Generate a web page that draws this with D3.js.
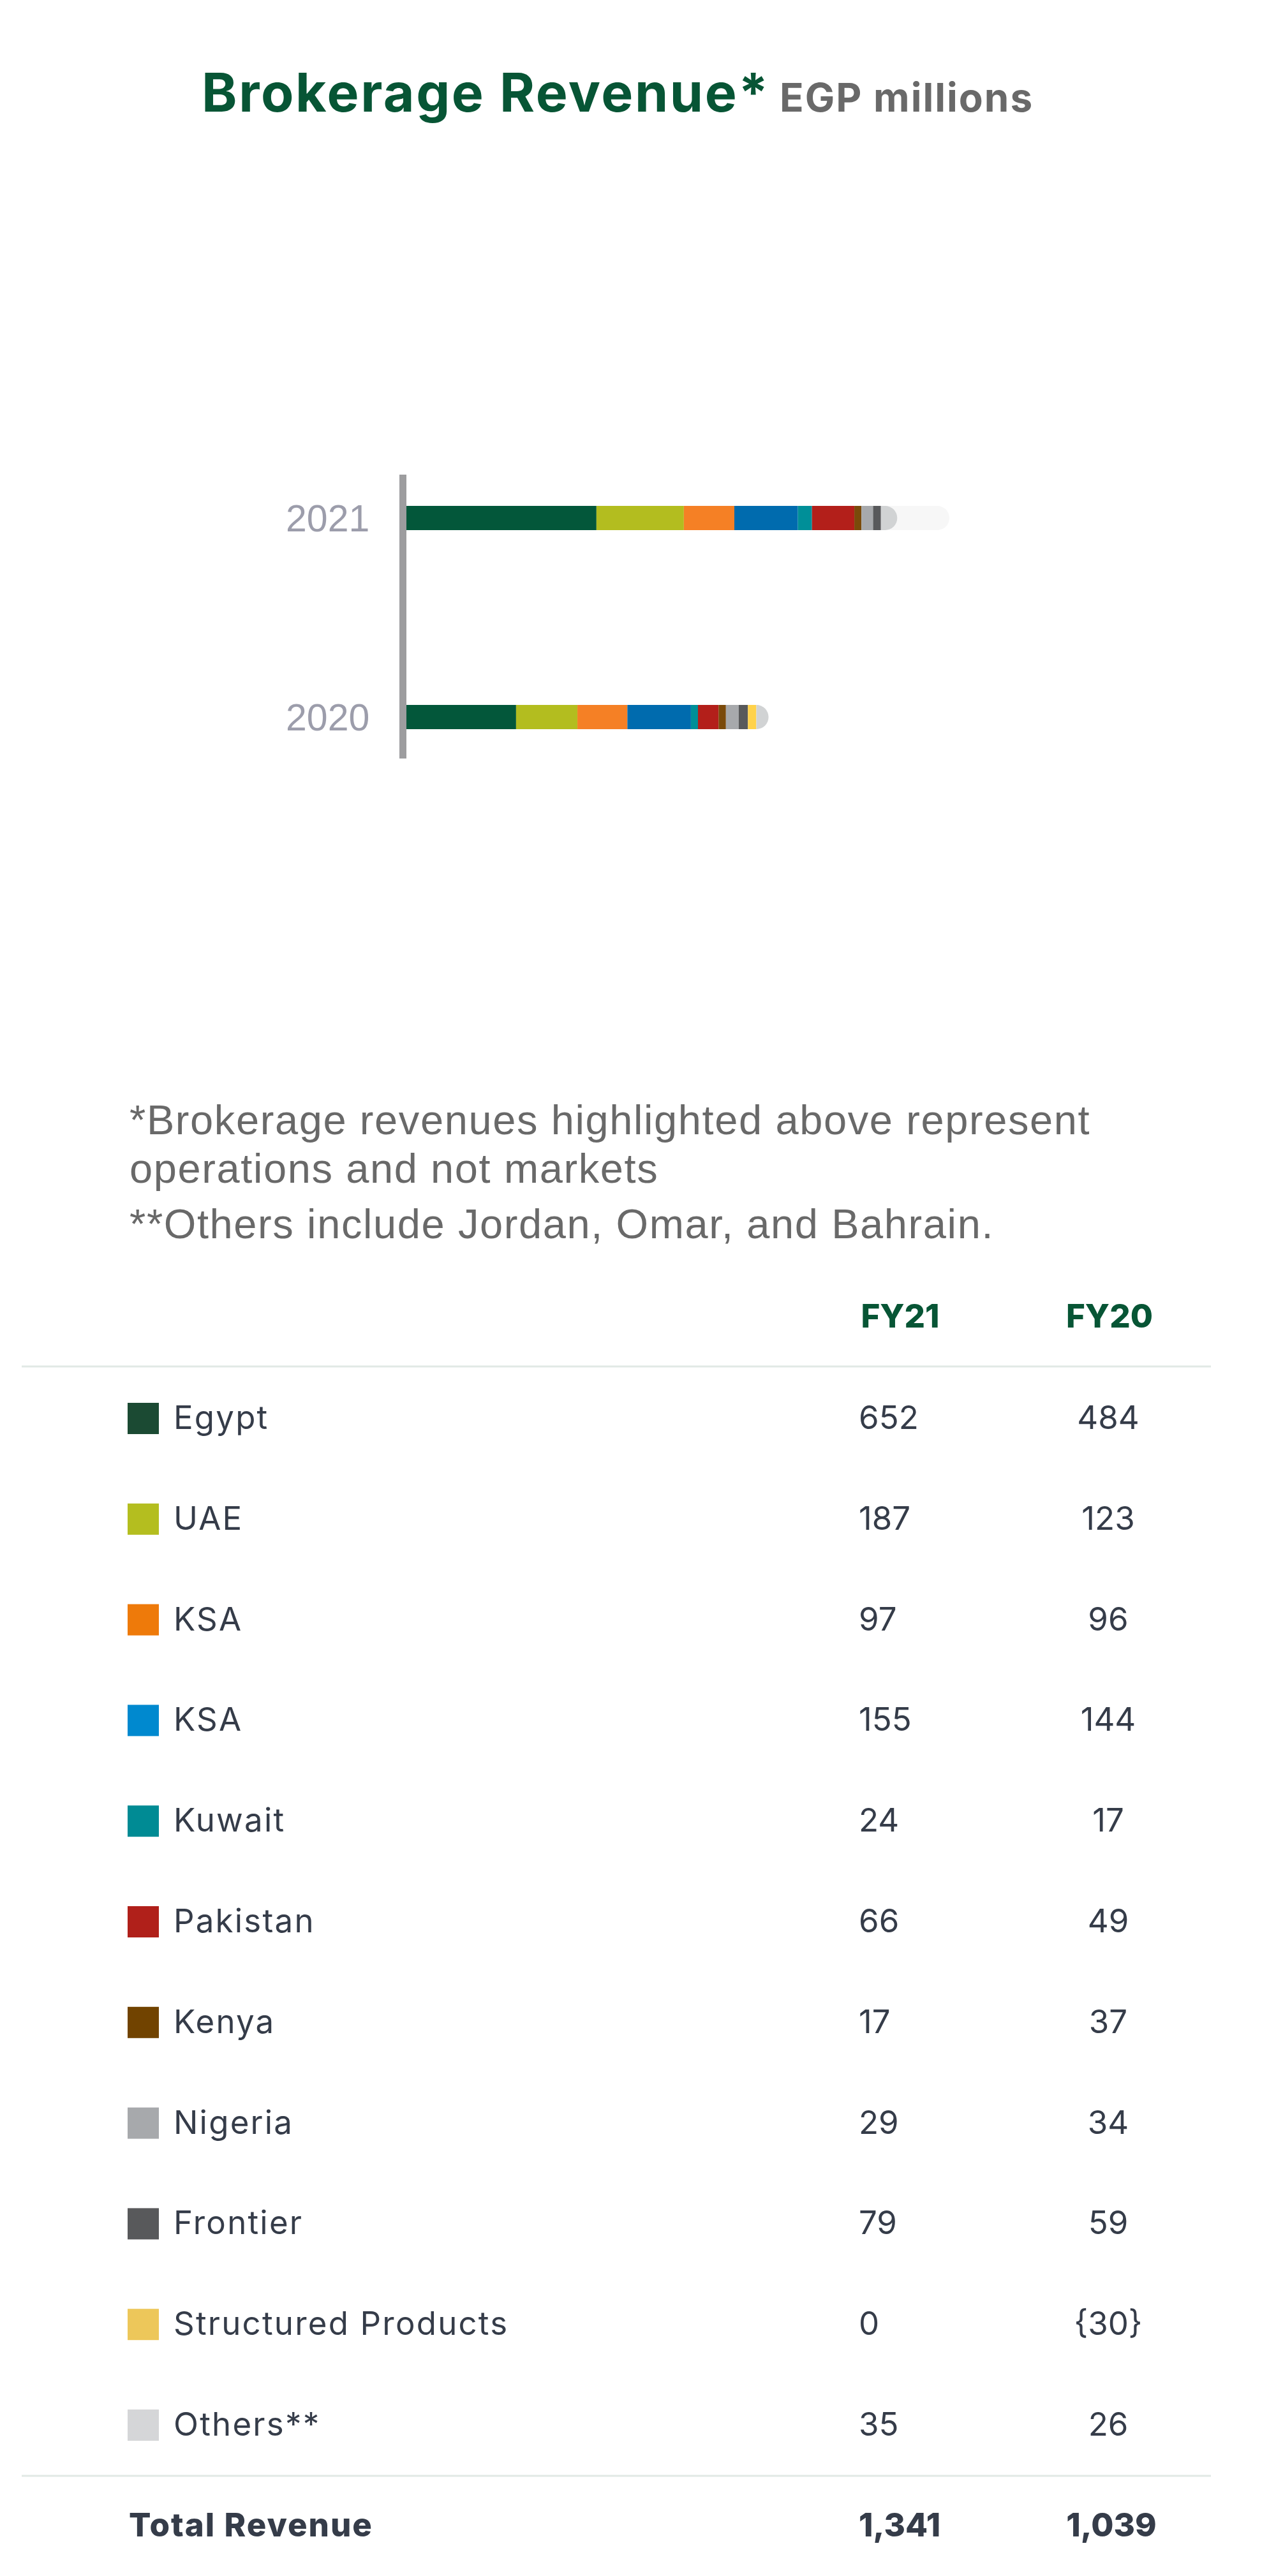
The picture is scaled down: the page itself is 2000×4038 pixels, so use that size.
<!DOCTYPE html>
<html>
<head>
<meta charset="utf-8">
<script src="https://cdn.jsdelivr.net/npm/d3@7"></script>
<style>
  body { margin: 0; background: #fff; }
  svg { display: block; }
</style>
</head>
<body>
<div id="chart"></div>
<script>
var width = 2000,
    height = 4038;

// categories and values
var years = ["2021", "2020"];
var markets = ["Egypt", "UAE", "KSA", "KSA", "Kuwait", "Pakistan", "Kenya", "Nigeria", "Frontier", "Structured Products", "Others**"];
// bar lengths as drawn (share of the 2021 track, %)
var bar2021 = [35.0, 16.1, 9.3, 11.7, 2.6, 7.8, 1.3, 2.15, 1.45, 0, 3.0];
var bar2020 = [20.2, 11.3, 9.2, 11.7, 1.3, 3.8, 1.35, 2.35, 1.7, 1.55, 2.25];
var track2021 = 100;
// table values, EGP millions
var fy21 = [652, 187, 97, 155, 24, 66, 17, 29, 79, 0, 35];
var fy20 = [484, 123, 96, 144, 17, 49, 37, 34, 59, -30, 26];
var columns = ["FY21", "FY20"];
var notes = [
  ["*Brokerage revenues highlighted above represent", "operations and not markets"],
  ["**Others include Jordan, Omar, and Bahrain."]
];

var barColors = ["#03573a", "#b3bd1f", "#f58025", "#006bae", "#008f98", "#b31f1a", "#7a4a0a", "#a7a9ac", "#58595b", "#ffd24a", "#d1d3d4"];
var swatchColors = ["#1b4a33", "#b4be1f", "#ee7a0a", "#0089cf", "#008b94", "#b0201a", "#714300", "#a7a9ac", "#58595b", "#edc75a", "#d5d6d8"];

var green = "#075535",
    ink = "#353c49";

var svg = d3.select("#chart").append("svg")
    .attr("width", width)
    .attr("height", height);

svg.append("rect")
    .attr("width", width)
    .attr("height", height)
    .attr("fill", "#fff");

//////////////////////////// title
var title = svg.append("text")
    .attr("x", 316)
    .attr("y", 175)
    .attr("font-family", "Inter, sans-serif");
title.append("tspan")
    .attr("font-size", 84)
    .attr("font-weight", 700)
    .attr("letter-spacing", 2.6)
    .attr("fill", green)
    .text("Brokerage Revenue*");
title.append("tspan")
    .attr("font-size", 62)
    .attr("font-weight", 700)
    .attr("letter-spacing", 2)
    .attr("fill", "#696969")
    .attr("x", 1222)
    .text("EGP millions");

//////////////////////////// stacked bars
var x = d3.scaleLinear()
    .domain([0, track2021])
    .range([637, 1488]);

var y = d3.scalePoint()
    .domain(years)
    .range([812, 1124]);

var barH = 38;

var rows = [bar2021, bar2020].map(function (vals, j) {
    var o = { year: years[j] };
    vals.forEach(function (v, i) { o["k" + i] = v; });
    return o;
});
var keys = markets.map(function (d, i) { return "k" + i; });
var series = d3.stack().keys(keys)(rows);

function roundRight(x0, x1, yTop, h) {
    var r = h / 2;
    var xs = Math.max(x0, x1 - r);
    return "M" + x0 + "," + yTop + "H" + xs +
        "A" + r + "," + r + " 0 0 1 " + xs + "," + (yTop + h) +
        "H" + x0 + "Z";
}

// pale track behind the 2021 bar
var trackStart = d3.sum(bar2021.slice(0, 9));
svg.append("path")
    .attr("fill", "#f7f7f7")
    .attr("d", roundRight(x(trackStart), x(track2021), y("2021") - barH / 2, barH));

// index of last non-zero segment for each year
var lastIdx = [bar2021, bar2020].map(function (vals) {
    var k = 0;
    vals.forEach(function (v, i) { if (v > 0) k = i; });
    return k;
});

series.forEach(function (s, i) {
    svg.append("g")
        .attr("fill", barColors[i])
        .selectAll("path")
        .data(s.filter(function (d) { return d[1] > d[0]; }))
        .enter().append("path")
        .attr("d", function (d) {
            var yr = d.data.year;
            var yTop = y(yr) - barH / 2;
            var x0 = x(d[0]), x1 = x(d[1]);
            if (lastIdx[years.indexOf(yr)] === i) return roundRight(x0, x1, yTop, barH);
            return "M" + x0 + "," + yTop + "H" + x1 + "V" + (yTop + barH) + "H" + x0 + "Z";
        });
});

// axis line
svg.append("rect")
    .attr("x", 626)
    .attr("y", y("2021") - 68)
    .attr("width", 11)
    .attr("height", y("2020") - y("2021") + 133)
    .attr("fill", "#9d9d9f");

svg.selectAll(".year")
    .data(years)
    .enter().append("text")
    .attr("class", "year")
    .attr("x", 448)
    .attr("y", function (d) { return y(d) + 21; })
    .attr("font-family", "Liberation Sans, Arial, sans-serif")
    .attr("font-size", 59)
    .attr("fill", "#9c9dab")
    .text(function (d) { return d; });

//////////////////////////// footnotes
var noteY = [1778, 1941];
notes.forEach(function (lines, j) {
    var t = svg.append("text")
        .attr("font-family", "Liberation Sans, Arial, sans-serif")
        .attr("font-size", 65)
        .attr("letter-spacing", 1.6)
        .attr("fill", "#696969");
    lines.forEach(function (line, k) {
        t.append("tspan")
            .attr("x", 203)
            .attr("y", noteY[j] + k * 76)
            .text(line);
    });
});

//////////////////////////// table
var colX = [1411, 1739];
svg.selectAll(".colhead")
    .data(columns)
    .enter().append("text")
    .attr("class", "colhead")
    .attr("x", function (d, i) { return colX[i]; })
    .attr("y", 2081)
    .attr("text-anchor", "middle")
    .attr("font-family", "Inter, sans-serif")
    .attr("font-weight", 800)
    .attr("font-size", 51)
    .attr("fill", green)
    .text(function (d) { return d; });

svg.selectAll(".rule")
    .data([2142, 3881])
    .enter().append("rect")
    .attr("class", "rule")
    .attr("x", 34)
    .attr("y", function (d) { return d - 1.5; })
    .attr("width", 1864)
    .attr("height", 3)
    .attr("fill", "#e1e9e5");

var rowY = d3.scaleLinear()
    .domain([0, 1])
    .range([2240, 2240 + 157.8]);

function fmt(v) {
    return v < 0 ? "{" + d3.format(",")(-v) + "}" : d3.format(",")(v);
}

var row = svg.selectAll(".row")
    .data(markets)
    .enter().append("g")
    .attr("class", "row")
    .attr("transform", function (d, i) { return "translate(0," + rowY(i) + ")"; })
    .attr("font-family", "Inter, sans-serif")
    .attr("font-size", 51)
    .attr("fill", ink);

row.append("rect")
    .attr("x", 200)
    .attr("y", -41)
    .attr("width", 49)
    .attr("height", 49)
    .attr("fill", function (d, i) { return swatchColors[i]; });

row.append("text")
    .attr("x", 272)
    .attr("letter-spacing", 2.2)
    .text(function (d) { return d; });

row.append("text")
    .attr("x", 1346)
    .text(function (d, i) { return fmt(fy21[i]); });

row.append("text")
    .attr("x", 1737)
    .attr("text-anchor", "middle")
    .text(function (d, i) { return fmt(fy20[i]); });

// total row
var total = svg.append("g")
    .attr("transform", "translate(0," + rowY(markets.length) + ")")
    .attr("font-family", "Inter, sans-serif")
    .attr("font-size", 51)
    .attr("font-weight", 800)
    .attr("fill", ink);
total.append("text")
    .attr("x", 202)
    .attr("letter-spacing", 2)
    .text("Total Revenue");
total.append("text")
    .attr("x", 1346)
    .text(fmt(d3.sum(fy21)));
total.append("text")
    .attr("x", 1742)
    .attr("text-anchor", "middle")
    .text(fmt(d3.sum(fy20)));
</script>
</body>
</html>
